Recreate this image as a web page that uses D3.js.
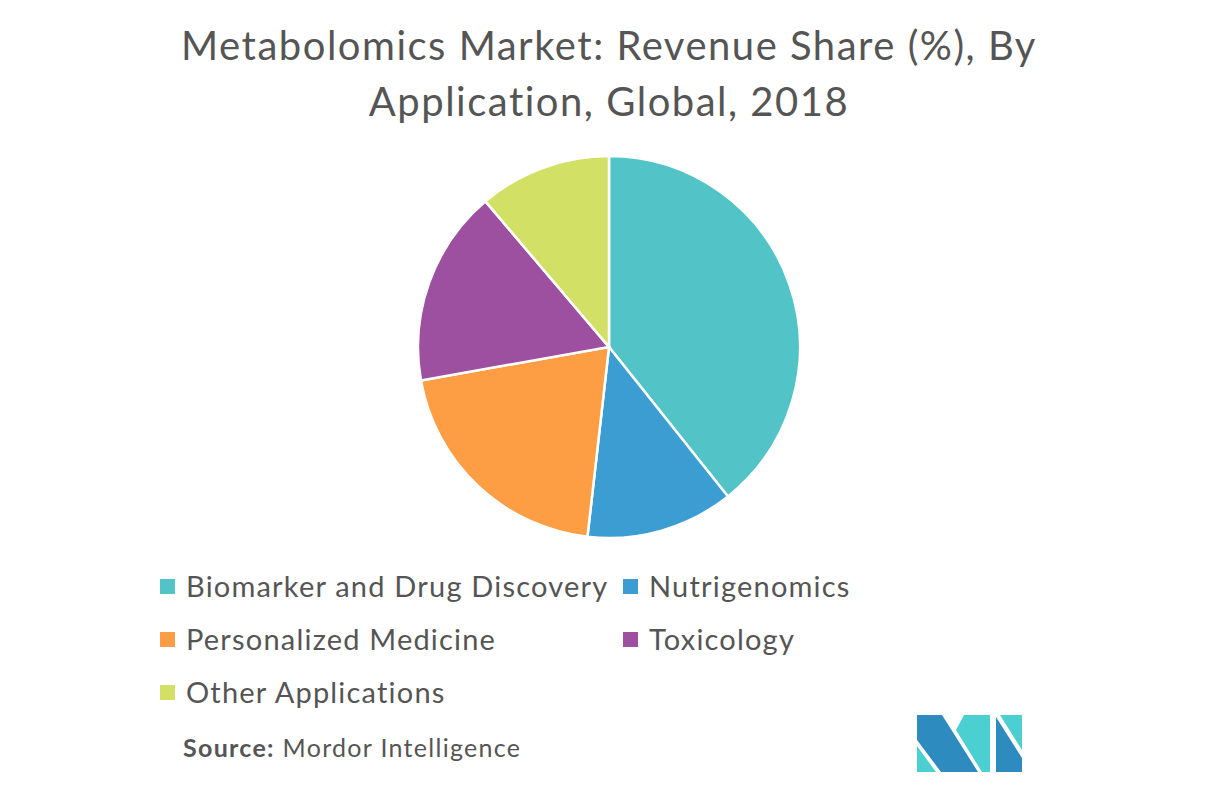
<!DOCTYPE html>
<html><head><meta charset="utf-8">
<script src="https://cdn.jsdelivr.net/npm/d3@7"></script>
<style>body{margin:0;background:#fff}text{font-family:Lato,"Open Sans",sans-serif}</style>
</head><body>
<svg id="c" width="1217" height="785"></svg>
<script>
const categories=["Biomarker and Drug Discovery","Nutrigenomics","Personalized Medicine","Toxicology","Other Applications"];
const values=[39.3,12.5,20.4,16.6,11.2];
const colors=["#52c4c8","#3b9dd1","#fd9e45","#9c509f","#d2e066"];
const svg=d3.select("#c");
svg.append("text").attr("x",609).attr("y",60).attr("text-anchor","middle").attr("font-size",40).attr("letter-spacing",1.5).attr("fill","#555").text("Metabolomics Market: Revenue Share (%), By");
svg.append("text").attr("x",609).attr("y",116).attr("text-anchor","middle").attr("font-size",40).attr("letter-spacing",1.5).attr("fill","#555").text("Application, Global, 2018");
const pie=d3.pie().sort(null)(values);
const arc=d3.arc().innerRadius(0).outerRadius(191);
svg.append("g").attr("transform","translate(609,347)").selectAll("path").data(pie).join("path")
 .attr("d",arc).attr("fill",(d,i)=>colors[i]).attr("stroke","#fff").attr("stroke-width",2.5);
const pos=[[160,587],[623,587],[160,640],[623,640],[160,693]];
const lg=svg.append("g");
categories.forEach((c,i)=>{
 lg.append("rect").attr("x",pos[i][0]).attr("y",pos[i][1]-8).attr("width",15).attr("height",15).attr("fill",colors[i]);
 lg.append("text").attr("x",pos[i][0]+26).attr("y",pos[i][1]+10).attr("font-size",29).attr("letter-spacing",1.2).attr("fill","#555").text(c);
});
const s=svg.append("text").attr("x",183).attr("y",757).attr("font-size",25).attr("letter-spacing",1.3).attr("fill","#555");
s.append("tspan").attr("font-weight","bold").text("Source:");
s.append("tspan").text(" Mordor Intelligence");
const lo=svg.append("g");
lo.append("path").attr("d","M917,715 L942,715 L978,772 L941,772 L917,740 Z").attr("fill","#2d8bbf");
lo.append("path").attr("d","M917,746 L917,772 L936,772 Z").attr("fill","#4ccfd0");
lo.append("path").attr("d","M964,715 L990,715 L990,772 L982,772 L956,730 Z").attr("fill","#4ccfd0");
lo.append("path").attr("d","M996,717 L1022,758 L1022,772 L996,772 Z").attr("fill","#2d8bbf");
lo.append("path").attr("d","M1000,715 L1022,715 L1022,750 Z").attr("fill","#4ccfd0");
</script></body></html>
